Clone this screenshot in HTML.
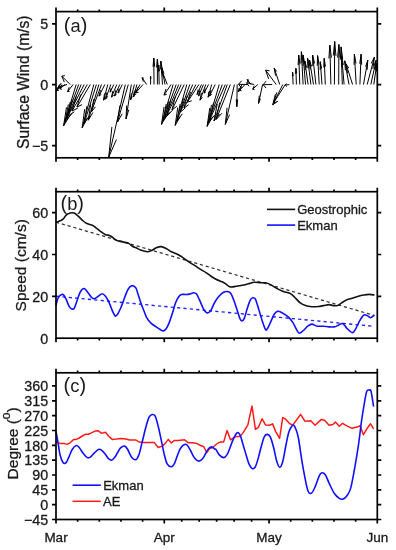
<!DOCTYPE html>
<html><head><meta charset="utf-8"><title>Figure</title><style>
html,body{margin:0;padding:0;background:#fff;width:396px;height:550px;overflow:hidden;}
svg{display:block;}
text{font-family:"Liberation Sans", Arial, Helvetica, sans-serif;fill:#1a1a1a;stroke:#1a1a1a;stroke-width:0.3px;}
</style></head><body>
<svg width="396" height="550" viewBox="0 0 396 550">
<rect width="396" height="550" fill="#fff"/>
<g>
<path d="M59.5,84.5L56.5,91M57.69,89.99L56.5,91L57.29,87.72M62,84.5L57,90.5M58.84,90.42L57,90.5L58.46,86.62M65,84.5L60,88.6M61.78,89.15L60,88.6L61.52,85.35M67,84.5L58.5,87.2M61.39,89.54L58.5,87.2L61.22,83.08M70.2,84.5L61.8,76.1M64.31,82.06L61.8,76.1L64.83,75.68M73.1,84.5L67.6,91.6M69.64,91.35L67.6,91.6L69.19,87.17M76.2,84.5L63.6,125.8M69.05,116.96L63.6,125.8L66.47,107.38M78.7,84.5L65,122M70.69,114.83L65,122L68.35,104.42M81.2,84.5L66.5,119M72.43,113.2L66.5,119L70.27,102.03M84.2,84.5L68,116M74.33,111.76L68,116L72.36,99.45M87.3,84.5L72,111M77.88,108.07L72,111L76.22,96.44M90.3,84.5L77,107M82.09,104.63L77,107L80.69,94.52M93.8,84.5L82.2,127.8M87.38,117.92L82.2,127.8L84.68,109.1M96.4,84.5L84,124M89.33,115.68L84,124L86.86,106.25M98.9,84.5L88.3,120.2M92.91,112.45L88.3,120.2L90.68,104.39M101.5,84.5L91.3,112M95.52,106.8L91.3,112L93.81,99.05M104.8,84.5L99,96.1M101.28,94.48L99,96.1L100.55,90.07M107.8,84.5L103.6,100.2M105.48,96.61L103.6,100.2L104.5,93.42M110.8,84.5L105.6,99.2M107.77,96.32L105.6,99.2L106.86,92.37M113.8,84.5L110.1,92.1M111.56,91L110.1,92.1L111.08,88.19M116.8,84.5L111.5,97.2M113.65,95.02L111.5,97.2L112.85,91M119.8,84.5L114.5,96M116.61,94.22L114.5,96L115.89,90.19M122.3,84.5L118,93M119.68,91.83L118,93L119.15,88.56M125.3,84.5L108.7,157.2M116.45,139.52L108.7,157.2L111.91,126.9M128.3,84.5L117.5,122M122.23,113.73L117.5,122L119.89,105.52M131.3,84.5L126,119M128.83,109.63L126,119L126.67,105.6M134.4,84.5L130.5,100M132.27,96.37L130.5,100L131.3,93.4M136.9,84.5L133.5,97M135.01,94.17L133.5,97L134.23,91.58M140,84.5L134,95M136.31,93.81L134,95L135.65,89.26M143,84.5L136,92.4M138.56,92.45L136,92.4L138.06,87.13M146.6,84.5L142.1,77.7M143.37,81.65L142.1,77.7L143.8,78.23M150.6,84.5L150.6,76.2M150.34,78.94L150.6,76.2L150.86,78.94M154,84.5L153.8,58M153.04,66.82L153.8,58L154.69,66.67M157.4,84.5L157.4,59M156.6,67.42L157.4,59L158.2,67.42M159.2,84.5L158.7,65M158.26,71.62L158.7,65L159.47,71.25M162.5,84.5L160.8,61M160.63,69.4L160.8,61L162.09,68.11M165,84.5L162,68M162.47,74.58L162,68L163.51,72.31M167.3,84.5L162,71M163.33,77.47L162,71L164.17,73.44M171.1,84.5L164,95.1M166.67,94.3L164,95.1L166.01,88.9M173.1,84.5L161.5,124.4M166.57,115.64L161.5,124.4L164.08,106.83M176.2,84.5L163,121M168.5,113.97L163,121L166.22,103.94M178.7,84.5L165,118M170.57,112.15L165,118L168.48,101.74M181.2,84.5L167,115M172.64,110.33L167,115L170.73,99.54M184.2,84.5L172,110M176.82,106.22L172,110L175.23,96.95M186.8,84.5L175.2,125.4M180.3,116.31L175.2,125.4L177.75,107.5M189.8,84.5L177,121M182.36,113.82L177,121L180.08,104.09M192.8,84.5L180.2,112.3M185.23,107.91L180.2,112.3L183.49,98.34M195.9,84.5L184,108M188.66,104.77L184,108L187.19,95.72M198.9,84.5L187.3,102.2M191.68,100.77L187.3,102.2L190.58,91.95M201.5,84.5L197,94.5M198.8,92.91L197,94.5L198.17,89.49M203.5,84.5L198.5,96M200.51,94.1L198.5,96L199.79,90.31M205.8,84.5L200,100.2M202.4,97.22L200,100.2L201.42,92.82M208.5,84.5L204.1,93.1M205.82,91.93L204.1,93.1L205.28,88.59M211.7,84.5L208.1,97.2M209.68,94.38L208.1,97.2L208.89,91.64M215.2,84.5L209.5,96M211.74,94.37L209.5,96L211.02,90.04M219.2,84.5L207.1,126.4M212.4,117.17L207.1,126.4L209.78,107.98M222.3,84.5L208,123M213.92,115.73L208,123L211.52,104.86M225.3,84.5L209.5,120.4M215.83,114.56L209.5,120.4L213.59,102.55M227.3,84.5L214,121M219.53,114.01L214,121L217.25,103.9M230.3,84.5L216.2,119.4M221.94,113.24L216.2,119.4L219.76,102.53M234.4,84.5L225.3,124.4M229.55,114.69L225.3,124.4L227.06,107.78M237.2,84.5L236.8,106.7M237.63,99.53L236.8,106.7L236.24,99.22M242,84.5L238.2,91.7M239.68,90.77L238.2,91.7L239.23,87.88M245,84.5L239.5,90.5M241.5,90.61L239.5,90.5L241.13,86.43M248,84.5L238.5,84.3M241.63,87.97L238.5,84.3L241.64,80.76M251,84.5L247.2,79.6M248.3,82.66L247.2,79.6L248.61,79.77M254.2,84.5L246.5,82.8M248.99,86.29L246.5,82.8L249.09,80.44M257.8,84.5L252.7,89.2M254.53,89.59L252.7,89.2L254.24,85.71M262.6,84.5L258.5,103.4M260.44,98.72L258.5,103.4L259.26,95.61M272.2,84.5L263.1,84.7M266.11,88.09L263.1,84.7L266.1,81.18M276.2,84.5L265.6,70.1M268.65,78.88L265.6,70.1L269.55,70.83M279.7,84.5L274.2,68.1M275.5,75.6L274.2,68.1L276.53,71.42M282.8,84.5L272.7,104.9M276.67,102L272.7,104.9L275.4,94.33M285.3,84.5L273.5,103M277.97,101.38L273.5,103L276.82,92.41M289.3,84.5L285.3,85.2M286.64,86.49L285.3,85.2L286.6,83.45M293.1,84.5L292.6,72.2M292.38,76.45L292.6,72.2L293.15,76.07M296.4,84.5L295.9,68.3M295.56,73.84L295.9,68.3L296.57,73.46M299.8,84.5L298.7,55M298.14,65.15L298.7,55L299.98,64.32M303.1,84.5L301.4,51.7M300.94,63.17L301.4,51.7L302.98,61.88M305.5,84.5L303.1,55M302.97,65.65L303.1,55L304.81,63.82M308.1,84.5L304.8,61.1M305.16,70.08L304.8,61.1L306.62,67.57M310.9,84.5L307.6,58.3M307.87,68.2L307.6,58.3L309.51,65.69M313.5,84.5L309.5,60M310.06,69.6L309.5,60L311.58,66.57M315.9,84.5L312.6,55M312.77,65.99L312.6,55L314.61,63.48M319.2,84.5L317.6,55.6M317.23,65.74L317.6,55.6L319.03,64.53M322,84.5L320.3,61.7M320.15,69.87L320.3,61.7L321.57,68.58M325.3,84.5L324.2,58.3M323.75,67.36L324.2,58.3L325.38,66.53M330.9,84.5L329.8,45M328.93,58.45L329.8,45L331.4,57.62M334.4,84.5L334.7,41.5M333.26,55.58L334.7,41.5L335.94,55.8M338.7,84.5L338.9,44.5M337.59,57.62L338.9,44.5L340.08,57.78M342.3,84.5L341.1,46.9M340.32,59.76L341.1,46.9L342.67,58.85M344.1,84.5L341.7,56.6M341.62,66.72L341.7,56.6L343.36,64.9M349,84.5L344.7,60.8M345.38,70.25L344.7,60.8L346.86,66.99M352.6,84.5L346,63.9M347.53,73.21L346,63.9L348.82,68.19M356.2,84.5L354.4,54.2M354.05,64.88L354.4,54.2L355.94,63.52M359.9,84.5L361.1,54.2M359.76,63.74L361.1,54.2L361.65,64.65M363.5,84.5L367.8,60.2M365.62,66.59L367.8,60.2L367.14,69.85M367.2,84.5L374.4,57.2M371.17,63.47L374.4,57.2L372.88,68.94M370.8,84.5L376.2,60.2M373.66,66.17L376.2,60.2L375.18,70.27M373.8,84.5L376.8,63.3M375.15,69.16L376.8,63.3L376.47,71.44" stroke="#000" stroke-width="1" fill="none" stroke-linejoin="miter" stroke-miterlimit="20"/>
<rect x="56" y="11.6" width="321.3" height="146.2" fill="none" stroke="#000" stroke-width="1.7"/>
<path d="M56,11.6V7.6M56,157.8V161.8M164.26,11.6V7.6M164.26,157.8V161.8M269.04,11.6V7.6M269.04,157.8V161.8M377.3,11.6V7.6M377.3,157.8V161.8M77.65,11.6V9.4M77.65,157.8V160M99.31,11.6V9.4M99.31,157.8V160M120.96,11.6V9.4M120.96,157.8V160M142.61,11.6V9.4M142.61,157.8V160M181.73,11.6V9.4M181.73,157.8V160M199.19,11.6V9.4M199.19,157.8V160M216.65,11.6V9.4M216.65,157.8V160M234.11,11.6V9.4M234.11,157.8V160M251.57,11.6V9.4M251.57,157.8V160M290.69,11.6V9.4M290.69,157.8V160M312.34,11.6V9.4M312.34,157.8V160M333.99,11.6V9.4M333.99,157.8V160M355.65,11.6V9.4M355.65,157.8V160M56,23.79H52M377.3,23.79H381.3M56,84.7H52M377.3,84.7H381.3M56,145.62H52M377.3,145.62H381.3" stroke="#000" stroke-width="1.7" fill="none"/>
<text x="48.2" y="29.09" text-anchor="end" font-size="14.3">5</text>
<text x="48.2" y="90" text-anchor="end" font-size="14.3">0</text>
<text x="48.2" y="150.92" text-anchor="end" font-size="14.3">&#8722;5</text>
<text x="63.8" y="32.2" font-size="20" style="stroke-width:0">(<tspan font-size="18.3">a</tspan>)</text>
<text transform="translate(28.5,82.2) rotate(-90)" text-anchor="middle" font-size="15.6">Surface Wind (m/s)</text>
</g>
<g>
<path d="M56,222.2 L373.8,315.3" stroke="#333" stroke-width="1.25" stroke-dasharray="3.2,2.8" fill="none"/>
<path d="M56,296.2 L373.8,326.3" stroke="#2020ff" stroke-width="1.35" stroke-dasharray="3.2,3.2" fill="none"/>
<path d="M56,222.2 C56.17,222.2 56.33,222.43 57,222.2 C57.67,221.97 58.98,221.3 60,220.8 C61.02,220.3 62.08,220.13 63.1,219.2 C64.12,218.27 64.93,216.22 66.1,215.2 C67.27,214.18 68.75,213.45 70.1,213.1 C71.45,212.75 72.85,212.58 74.2,213.1 C75.55,213.62 76.85,215.02 78.2,216.2 C79.55,217.38 80.95,219.03 82.3,220.2 C83.65,221.37 84.62,222.35 86.3,223.2 C87.98,224.05 90.88,224.62 92.4,225.3 C93.92,225.98 94.07,226.3 95.4,227.3 C96.73,228.3 98.72,230.07 100.4,231.3 C102.08,232.53 103.98,234.02 105.5,234.7 C107.02,235.38 108.32,234.95 109.5,235.4 C110.68,235.85 111.42,236.57 112.6,237.4 C113.78,238.23 115.27,239.73 116.6,240.4 C117.93,241.07 119.25,241.07 120.6,241.4 C121.95,241.73 123.35,242.07 124.7,242.4 C126.05,242.73 127.35,242.72 128.7,243.4 C130.05,244.08 131.58,245.77 132.8,246.5 C134.02,247.23 134.63,247.18 136,247.8 C137.37,248.42 139.15,249.53 141,250.2 C142.85,250.87 145.23,251.8 147.1,251.8 C148.97,251.8 150.68,250.87 152.2,250.2 C153.72,249.53 154.68,248.4 156.2,247.8 C157.72,247.2 159.62,246.47 161.3,246.6 C162.98,246.73 164.62,247.73 166.3,248.6 C167.98,249.47 169.55,250.87 171.4,251.8 C173.25,252.73 175.55,253.28 177.4,254.2 C179.25,255.12 180.48,255.95 182.5,257.3 C184.52,258.65 187.48,260.95 189.5,262.3 C191.52,263.65 192.75,264.22 194.6,265.4 C196.45,266.58 198.75,268.23 200.6,269.4 C202.45,270.57 204.02,271.3 205.7,272.4 C207.38,273.5 208.98,274.87 210.7,276 C212.42,277.13 214.1,278.23 216,279.2 C217.9,280.17 220.42,280.97 222.1,281.8 C223.78,282.63 224.77,283.35 226.1,284.2 C227.43,285.05 228.42,286.55 230.1,286.9 C231.78,287.25 234.17,286.57 236.2,286.3 C238.23,286.03 240.28,285.72 242.3,285.3 C244.32,284.88 246.28,284.32 248.3,283.8 C250.32,283.28 252.38,282.37 254.4,282.2 C256.42,282.03 258.55,282.7 260.4,282.8 C262.25,282.9 263.82,282.5 265.5,282.8 C267.18,283.1 268.65,283.68 270.5,284.6 C272.35,285.52 274.57,287.18 276.6,288.3 C278.63,289.42 280.52,290.47 282.7,291.3 C284.88,292.13 287.85,292.45 289.7,293.3 C291.55,294.15 292.75,295.52 293.8,296.4 C294.85,297.28 294.93,297.52 296,298.6 C297.07,299.68 298.62,301.73 300.2,302.9 C301.78,304.07 303.55,304.97 305.5,305.6 C307.45,306.23 309.77,306.55 311.9,306.7 C314.03,306.85 316.35,306.68 318.3,306.5 C320.25,306.32 321.83,305.92 323.6,305.6 C325.37,305.28 327.32,304.6 328.9,304.6 C330.48,304.6 331.68,305.43 333.1,305.6 C334.52,305.77 335.98,306.05 337.4,305.6 C338.82,305.15 340.02,303.88 341.6,302.9 C343.18,301.92 345.13,300.48 346.9,299.7 C348.67,298.92 350.43,298.73 352.2,298.2 C353.97,297.67 355.55,297.03 357.5,296.5 C359.45,295.97 361.95,295.35 363.9,295 C365.85,294.65 367.43,294.4 369.2,294.4 C370.97,294.4 373.62,294.9 374.5,295" stroke="#111" stroke-width="1.6" fill="none" stroke-linejoin="round"/>
<path d="M56,305.3 C56.27,304.28 57,300.78 57.6,299.2 C58.2,297.62 58.68,296.58 59.6,295.8 C60.52,295.02 62.02,293.93 63.1,294.5 C64.18,295.07 65.1,297.23 66.1,299.2 C67.1,301.17 68.15,304.68 69.1,306.3 C70.05,307.92 70.95,308.57 71.8,308.9 C72.65,309.23 73.3,309.75 74.2,308.3 C75.1,306.85 76.2,302.9 77.2,300.2 C78.2,297.5 79.08,294.05 80.2,292.1 C81.32,290.15 82.72,288.57 83.9,288.5 C85.08,288.43 86.05,290.25 87.3,291.7 C88.55,293.15 90.22,296.02 91.4,297.2 C92.58,298.38 93.23,298.97 94.4,298.8 C95.57,298.63 97.12,297.05 98.4,296.2 C99.68,295.35 100.92,293.7 102.1,293.7 C103.28,293.7 104.37,294.78 105.5,296.2 C106.63,297.62 107.72,299.68 108.9,302.2 C110.08,304.72 111.55,309 112.6,311.3 C113.65,313.6 114.37,315.5 115.2,316 C116.03,316.5 116.7,315.58 117.6,314.3 C118.5,313.02 119.58,310.65 120.6,308.3 C121.62,305.95 122.68,302.9 123.7,300.2 C124.72,297.5 125.7,294.28 126.7,292.1 C127.7,289.92 128.68,288.17 129.7,287.1 C130.72,286.03 131.75,285.53 132.8,285.7 C133.85,285.87 135.13,286.7 136,288.1 C136.87,289.5 137.17,291.58 138,294.1 C138.83,296.62 139.98,300.33 141,303.2 C142.02,306.07 143.08,308.77 144.1,311.3 C145.12,313.83 145.92,316.38 147.1,318.4 C148.28,320.42 149.68,321.98 151.2,323.4 C152.72,324.82 154.7,325.88 156.2,326.9 C157.7,327.92 159.02,328.83 160.2,329.5 C161.38,330.17 162.28,331.07 163.3,330.9 C164.32,330.73 165.3,329.92 166.3,328.5 C167.3,327.08 168.28,324.93 169.3,322.4 C170.32,319.87 171.38,316.5 172.4,313.3 C173.42,310.1 174.4,305.88 175.4,303.2 C176.4,300.52 177.38,298.65 178.4,297.2 C179.42,295.75 180.32,294.95 181.5,294.5 C182.68,294.05 184.17,294.57 185.5,294.5 C186.83,294.43 188.15,294.4 189.5,294.1 C190.85,293.8 192.42,292.7 193.6,292.7 C194.78,292.7 195.6,292.85 196.6,294.1 C197.6,295.35 198.42,297.67 199.6,300.2 C200.78,302.73 202.52,307.22 203.7,309.3 C204.88,311.38 205.6,312.37 206.7,312.7 C207.8,313.03 209.12,312.72 210.3,311.3 C211.48,309.88 212.85,306.05 213.8,304.2 C214.75,302.35 215.13,301.53 216,300.2 C216.87,298.87 217.82,297.48 219,296.2 C220.18,294.92 221.75,293.28 223.1,292.5 C224.45,291.72 225.87,291.4 227.1,291.5 C228.33,291.6 229.38,291.65 230.5,293.1 C231.62,294.55 232.68,297.33 233.8,300.2 C234.92,303.07 236.2,307.27 237.2,310.3 C238.2,313.33 239.02,316.62 239.8,318.4 C240.58,320.18 241.15,321 241.9,321 C242.65,321 243.4,320.52 244.3,318.4 C245.2,316.28 246.3,311.33 247.3,308.3 C248.3,305.27 249.38,301.95 250.3,300.2 C251.22,298.45 251.95,297.97 252.8,297.8 C253.65,297.63 254.47,297.45 255.4,299.2 C256.33,300.95 257.28,304.77 258.4,308.3 C259.52,311.83 260.92,316.87 262.1,320.4 C263.28,323.93 264.6,328.15 265.5,329.5 C266.4,330.85 266.67,329.68 267.5,328.5 C268.33,327.32 269.38,324.77 270.5,322.4 C271.62,320.03 273.02,316.15 274.2,314.3 C275.38,312.45 276.53,311.7 277.6,311.3 C278.67,310.9 279.42,311.4 280.6,311.9 C281.78,312.4 283.35,313.38 284.7,314.3 C286.05,315.22 287.35,316.05 288.7,317.4 C290.05,318.75 291.58,320.55 292.8,322.4 C294.02,324.25 294.93,326.7 296,328.5 C297.07,330.3 297.97,332.87 299.2,333.2 C300.43,333.53 301.98,331.67 303.4,330.5 C304.82,329.33 306.28,327.27 307.7,326.2 C309.12,325.13 310.32,324.1 311.9,324.1 C313.48,324.1 315.25,325.85 317.2,326.2 C319.15,326.55 321.65,326.08 323.6,326.2 C325.55,326.32 327.13,326.78 328.9,326.9 C330.67,327.02 332.62,327.18 334.2,326.9 C335.78,326.62 336.98,325.77 338.4,325.2 C339.82,324.63 341.28,322.98 342.7,323.5 C344.12,324.02 345.32,326.78 346.9,328.3 C348.48,329.82 350.78,332.42 352.2,332.6 C353.62,332.78 354.17,331.35 355.4,329.4 C356.63,327.45 358.18,323.3 359.6,320.9 C361.02,318.5 362.48,315.78 363.9,315 C365.32,314.22 366.97,315.75 368.1,316.2 C369.23,316.65 369.63,317.9 370.7,317.7 C371.77,317.5 373.87,315.45 374.5,315" stroke="#1010ff" stroke-width="1.6" fill="none" stroke-linejoin="round"/>
<rect x="56" y="191.7" width="321.3" height="146.5" fill="none" stroke="#000" stroke-width="1.7"/>
<path d="M56,191.7V187.7M56,338.2V342.2M164.26,191.7V187.7M164.26,338.2V342.2M269.04,191.7V187.7M269.04,338.2V342.2M377.3,191.7V187.7M377.3,338.2V342.2M77.65,191.7V189.5M77.65,338.2V340.4M99.31,191.7V189.5M99.31,338.2V340.4M120.96,191.7V189.5M120.96,338.2V340.4M142.61,191.7V189.5M142.61,338.2V340.4M181.73,191.7V189.5M181.73,338.2V340.4M199.19,191.7V189.5M199.19,338.2V340.4M216.65,191.7V189.5M216.65,338.2V340.4M234.11,191.7V189.5M234.11,338.2V340.4M251.57,191.7V189.5M251.57,338.2V340.4M290.69,191.7V189.5M290.69,338.2V340.4M312.34,191.7V189.5M312.34,338.2V340.4M333.99,191.7V189.5M333.99,338.2V340.4M355.65,191.7V189.5M355.65,338.2V340.4M56,296.34H52M377.3,296.34H381.3M56,254.48H52M377.3,254.48H381.3M56,212.62H52M377.3,212.62H381.3" stroke="#000" stroke-width="1.7" fill="none"/>
<text x="48.2" y="343.5" text-anchor="end" font-size="14.3">0</text>
<text x="48.2" y="301.64" text-anchor="end" font-size="14.3">20</text>
<text x="48.2" y="259.78" text-anchor="end" font-size="14.3">40</text>
<text x="48.2" y="217.92" text-anchor="end" font-size="14.3">60</text>
<text x="60.5" y="209.6" font-size="20" style="stroke-width:0">(<tspan font-size="18.3">b</tspan>)</text>
<text transform="translate(26.2,265.3) rotate(-90)" text-anchor="middle" font-size="15.5">Speed (cm/s)</text>
<path d="M267,209.4H295.2" stroke="#111" stroke-width="1.6"/>
<path d="M267,225.1H295.2" stroke="#1010ff" stroke-width="1.6"/>
<text x="297.2" y="213.8" font-size="13">Geostrophic</text>
<text x="297.2" y="230.3" font-size="13">Ekman</text>
</g>
<g>
<path d="M56,442 L60,443.4 L64.1,443.4 L67.1,444.4 L70.1,442.8 L73.8,439.4 L76.2,439.4 L79.2,438 L82.3,436 L85.3,434.3 L88.3,434.3 L91.4,432.9 L95.4,430.9 L98.4,430.7 L100.8,432.9 L103.5,432.9 L105.5,432.3 L108.5,436 L112.2,439.4 L116.6,439 L120.6,438.4 L125.7,439 L129.7,440 L136,440 L139,442 L144.1,442.4 L149.1,442.4 L154.2,442.4 L158.2,447.5 L162.3,446.1 L165.3,443.4 L168.3,439.4 L171.4,443 L174.4,440.4 L178.4,440.4 L184.5,439.8 L188.5,442.8 L192.6,442.8 L196.6,443.4 L200.6,445.5 L203.7,446.5 L206.7,452.5 L209.7,448.5 L212.8,447.5 L216,444.5 L219,442.5 L221.1,441.9 L223.7,441.9 L227.1,430.4 L230.5,439.8 L234.2,437.4 L237.2,436.4 L240.2,436.4 L243.3,432.4 L247.9,424.9 L249.3,418.2 L252,406.1 L253.4,415.2 L255.4,429.3 L258.4,427.3 L262.1,418.8 L265.5,424.9 L269.5,425.3 L272.6,423.9 L275.6,431.4 L279.6,438.4 L282.7,417.6 L285.7,419.2 L289.7,423.7 L292.8,424.9 L296,420.7 L300.6,414.4 L304.9,421.2 L310.8,420.7 L315.1,425.3 L321.4,419.4 L324.5,420.2 L329.1,425.3 L332.9,424.5 L335.4,422 L339.3,426.3 L342.6,423.3 L346.9,425.8 L352,428.3 L357.1,427.1 L360.1,425.8 L363.4,434.7 L367.2,428.3 L370.6,423.8 L373.6,428.9" stroke="#ff1a1a" stroke-width="1.5" fill="none" stroke-linejoin="round"/>
<path d="M56,431.3 C56.33,433.15 57.33,438.53 58,442.4 C58.67,446.27 59.15,451.13 60,454.5 C60.85,457.87 62.08,461.25 63.1,462.6 C64.12,463.95 65.1,463.6 66.1,462.6 C67.1,461.6 68.08,458.78 69.1,456.6 C70.12,454.42 71.02,451.35 72.2,449.5 C73.38,447.65 75.03,445.83 76.2,445.5 C77.37,445.17 78.02,446.17 79.2,447.5 C80.38,448.83 81.95,451.82 83.3,453.5 C84.65,455.18 86.13,456.98 87.3,457.6 C88.47,458.22 89.12,457.98 90.3,457.2 C91.48,456.42 93.05,454.18 94.4,452.9 C95.75,451.62 97.22,449.97 98.4,449.5 C99.58,449.03 100.32,449.27 101.5,450.1 C102.68,450.93 104.33,453.08 105.5,454.5 C106.67,455.92 107.48,457.65 108.5,458.6 C109.52,459.55 110.58,460.37 111.6,460.2 C112.62,460.03 113.6,458.88 114.6,457.6 C115.6,456.32 116.6,454.12 117.6,452.5 C118.6,450.88 119.42,448.97 120.6,447.9 C121.78,446.83 123.52,445.83 124.7,446.1 C125.88,446.37 126.52,447.58 127.7,449.5 C128.88,451.42 130.42,455.92 131.8,457.6 C133.18,459.28 134.8,460.12 136,459.6 C137.2,459.08 137.98,457.37 139,454.5 C140.02,451.63 140.92,447.1 142.1,442.4 C143.28,437.7 144.93,430.5 146.1,426.3 C147.27,422.1 148.08,419.17 149.1,417.2 C150.12,415.23 151.18,414.67 152.2,414.5 C153.22,414.33 154.2,414.23 155.2,416.2 C156.2,418.17 157.18,422.27 158.2,426.3 C159.22,430.33 160.28,435.7 161.3,440.4 C162.32,445.1 163.3,450.53 164.3,454.5 C165.3,458.47 166.12,462.17 167.3,464.2 C168.48,466.23 170.22,466.8 171.4,466.7 C172.58,466.6 173.4,465.45 174.4,463.6 C175.4,461.75 176.4,458.12 177.4,455.6 C178.4,453.08 179.22,450.37 180.4,448.5 C181.58,446.63 183.32,444.9 184.5,444.4 C185.68,443.9 186.5,444.48 187.5,445.5 C188.5,446.52 189.48,448.65 190.5,450.5 C191.52,452.35 192.58,454.98 193.6,456.6 C194.62,458.22 195.6,459.47 196.6,460.2 C197.6,460.93 198.58,461.27 199.6,461 C200.62,460.73 201.68,459.85 202.7,458.6 C203.72,457.35 204.7,455.18 205.7,453.5 C206.7,451.82 207.68,449.6 208.7,448.5 C209.72,447.4 210.78,446.8 211.8,446.9 C212.82,447 214.1,448.67 214.8,449.1 C215.5,449.53 215.3,448.58 216,449.5 C216.7,450.42 217.72,453.25 219,454.6 C220.28,455.95 222.35,457.6 223.7,457.6 C225.05,457.6 226.03,456.28 227.1,454.6 C228.17,452.92 229.08,450.03 230.1,447.5 C231.12,444.97 232.02,441.85 233.2,439.4 C234.38,436.95 236.03,433.47 237.2,432.8 C238.37,432.13 239.18,433.28 240.2,435.4 C241.22,437.52 242.28,442.13 243.3,445.5 C244.32,448.87 245.3,452.4 246.3,455.6 C247.3,458.8 248.28,462.52 249.3,464.7 C250.32,466.88 251.38,468.37 252.4,468.7 C253.42,469.03 254.4,468.55 255.4,466.7 C256.4,464.85 257.38,461.13 258.4,457.6 C259.42,454.07 260.48,449.03 261.5,445.5 C262.52,441.97 263.5,438.25 264.5,436.4 C265.5,434.55 266.5,434.23 267.5,434.4 C268.5,434.57 269.48,435.22 270.5,437.4 C271.52,439.58 272.58,443.62 273.6,447.5 C274.62,451.38 275.6,457.4 276.6,460.7 C277.6,464 278.58,467.13 279.6,467.3 C280.62,467.47 281.68,465.17 282.7,461.7 C283.72,458.23 284.7,451.38 285.7,446.5 C286.7,441.62 287.68,435.77 288.7,432.4 C289.72,429.03 290.95,427.48 291.8,426.3 C292.65,425.12 293.1,424.75 293.8,425.3 C294.5,425.85 295.22,427.4 296,429.6 C296.78,431.8 297.43,432.77 298.5,438.5 C299.57,444.23 300.9,455.52 302.4,464 C303.9,472.48 306.02,484.53 307.5,489.4 C308.98,494.27 310.03,493.62 311.3,493.2 C312.57,492.78 313.83,489.65 315.1,486.9 C316.37,484.15 317.85,479.03 318.9,476.7 C319.95,474.37 320.33,473.23 321.4,472.9 C322.47,472.57 324.02,473 325.3,474.7 C326.58,476.4 327.62,480.02 329.1,483.1 C330.58,486.18 332.5,490.67 334.2,493.2 C335.9,495.73 337.82,497.32 339.3,498.3 C340.78,499.28 341.83,499.52 343.1,499.1 C344.37,498.68 345.63,497.63 346.9,495.8 C348.17,493.97 349.43,492.55 350.7,488.1 C351.97,483.65 353.23,476.08 354.5,469.1 C355.77,462.12 357.12,454.27 358.3,446.2 C359.48,438.13 360.62,427.7 361.6,420.7 C362.58,413.7 363.35,409.07 364.2,404.2 C365.05,399.33 365.85,393.83 366.7,391.5 C367.55,389.17 368.57,390.2 369.3,390.2 C370.03,390.2 370.38,388.75 371.1,391.5 C371.82,394.25 373.18,404.17 373.6,406.7" stroke="#1010ff" stroke-width="1.6" fill="none" stroke-linejoin="round"/>
<rect x="56" y="372.8" width="321.3" height="146.7" fill="none" stroke="#000" stroke-width="1.7"/>
<path d="M56,372.8V368.8M56,519.5V523.5M164.26,372.8V368.8M164.26,519.5V523.5M269.04,372.8V368.8M269.04,519.5V523.5M377.3,372.8V368.8M377.3,519.5V523.5M77.65,372.8V370.6M77.65,519.5V521.7M99.31,372.8V370.6M99.31,519.5V521.7M120.96,372.8V370.6M120.96,519.5V521.7M142.61,372.8V370.6M142.61,519.5V521.7M181.73,372.8V370.6M181.73,519.5V521.7M199.19,372.8V370.6M199.19,519.5V521.7M216.65,372.8V370.6M216.65,519.5V521.7M234.11,372.8V370.6M234.11,519.5V521.7M251.57,372.8V370.6M251.57,519.5V521.7M290.69,372.8V370.6M290.69,519.5V521.7M312.34,372.8V370.6M312.34,519.5V521.7M333.99,372.8V370.6M333.99,519.5V521.7M355.65,372.8V370.6M355.65,519.5V521.7M56,519.5H52M377.3,519.5H381.3M56,504.66H52M377.3,504.66H381.3M56,489.83H52M377.3,489.83H381.3M56,474.99H52M377.3,474.99H381.3M56,460.15H52M377.3,460.15H381.3M56,445.32H52M377.3,445.32H381.3M56,430.48H52M377.3,430.48H381.3M56,415.64H52M377.3,415.64H381.3M56,400.81H52M377.3,400.81H381.3M56,385.97H52M377.3,385.97H381.3" stroke="#000" stroke-width="1.7" fill="none"/>
<text x="48.2" y="524.8" text-anchor="end" font-size="14.3">&#8722;45</text>
<text x="48.2" y="509.96" text-anchor="end" font-size="14.3">0</text>
<text x="48.2" y="495.13" text-anchor="end" font-size="14.3">45</text>
<text x="48.2" y="480.29" text-anchor="end" font-size="14.3">90</text>
<text x="48.2" y="465.45" text-anchor="end" font-size="14.3">135</text>
<text x="48.2" y="450.62" text-anchor="end" font-size="14.3">180</text>
<text x="48.2" y="435.78" text-anchor="end" font-size="14.3">225</text>
<text x="48.2" y="420.94" text-anchor="end" font-size="14.3">270</text>
<text x="48.2" y="406.11" text-anchor="end" font-size="14.3">315</text>
<text x="48.2" y="391.27" text-anchor="end" font-size="14.3">360</text>
<text x="63.6" y="392" font-size="20" style="stroke-width:0">(<tspan font-size="18.3">c</tspan>)</text>
<text transform="translate(17.5,443.35) rotate(-90)" text-anchor="middle" font-size="15.5">Degree (<tspan font-size="12" dy="-8">o</tspan><tspan dy="8">)</tspan></text>
<path d="M72.6,485.2H100.8" stroke="#1010ff" stroke-width="1.6"/>
<path d="M72.6,501.3H100.8" stroke="#ff1a1a" stroke-width="1.5"/>
<text x="103.2" y="490.2" font-size="13">Ekman</text>
<text x="103" y="506.4" font-size="13">AE</text>
</g>
<text x="56" y="541.8" text-anchor="middle" font-size="13.5">Mar</text>
<text x="164.26" y="541.8" text-anchor="middle" font-size="13.5">Apr</text>
<text x="269.04" y="541.8" text-anchor="middle" font-size="13.5">May</text>
<text x="377.3" y="541.8" text-anchor="middle" font-size="13.5">Jun</text>
</svg>
</body></html>
